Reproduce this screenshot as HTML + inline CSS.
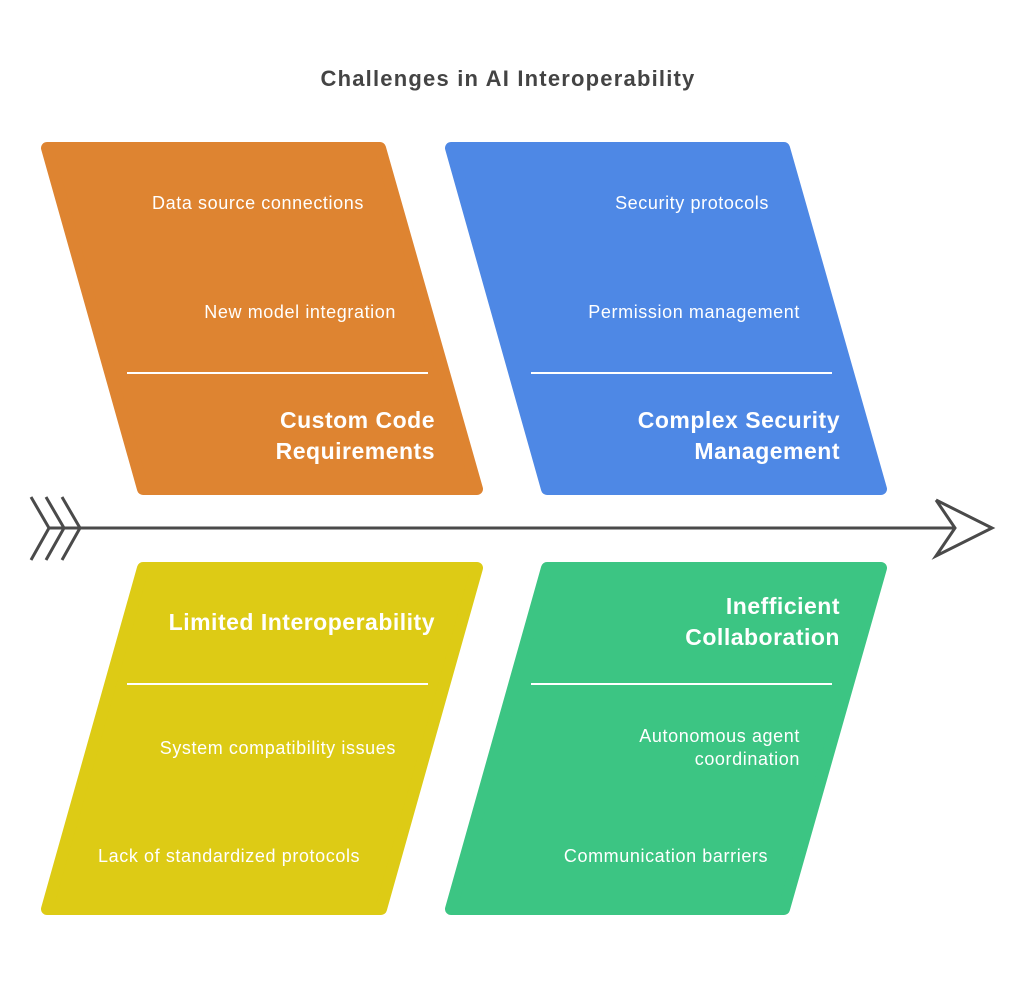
<!DOCTYPE html>
<html><head><style>
body{margin:0;background:#fff;}
svg text{font-family:"Liberation Sans",sans-serif;fill:#fff;}
</style></head><body>
<svg width="1024" height="980" viewBox="0 0 1024 980" xmlns="http://www.w3.org/2000/svg">
<rect width="1024" height="980" fill="#fff"/>
<text x="508" y="86" text-anchor="middle" style="fill:#444;font-size:22px;font-weight:bold;letter-spacing:1.2px">Challenges in AI Interoperability</text>
<g stroke-linejoin="round">
<path d="M47,148 L380,148 L477,489 L143,489 Z" fill="#DE8431" stroke="#DE8431" stroke-width="12"/>
<path d="M451,148 L784,148 L881,489 L547,489 Z" fill="#4E88E5" stroke="#4E88E5" stroke-width="12"/>
<path d="M143,568 L477,568 L381,909 L47,909 Z" fill="#DDCB15" stroke="#DDCB15" stroke-width="12"/>
<path d="M547,568 L881,568 L784,909 L451,909 Z" fill="#3CC583" stroke="#3CC583" stroke-width="12"/>
</g>
<g stroke="#fff" stroke-width="2">
<line x1="127" y1="373" x2="428" y2="373"/>
<line x1="531" y1="373" x2="832" y2="373"/>
<line x1="127" y1="684" x2="428" y2="684"/>
<line x1="531" y1="684" x2="832" y2="684"/>
</g>
<g style="font-size:18px;letter-spacing:0.6px">
<text x="258" y="209" text-anchor="middle">Data source connections</text>
<text x="396" y="318" text-anchor="end">New model integration</text>
<text x="692" y="209" text-anchor="middle">Security protocols</text>
<text x="800" y="318" text-anchor="end">Permission management</text>
<text x="396" y="754" text-anchor="end">System compatibility issues</text>
<text x="98" y="862">Lack of standardized protocols</text>
<text x="800" y="742" text-anchor="end">Autonomous agent</text>
<text x="800" y="765" text-anchor="end">coordination</text>
<text x="666" y="862" text-anchor="middle">Communication barriers</text>
</g>
<g style="font-size:23px;font-weight:bold;letter-spacing:0.5px">
<text x="435" y="428" text-anchor="end">Custom Code</text>
<text x="435" y="459" text-anchor="end">Requirements</text>
<text x="840" y="428" text-anchor="end">Complex Security</text>
<text x="840" y="459" text-anchor="end">Management</text>
<text x="435" y="630" text-anchor="end">Limited Interoperability</text>
<text x="840" y="614" text-anchor="end">Inefficient</text>
<text x="840" y="645" text-anchor="end">Collaboration</text>
</g>
<g stroke="#4a4a4a" stroke-width="3" fill="none" stroke-linejoin="miter">
<line x1="50" y1="528" x2="992" y2="528"/>
<polyline points="31,497 49,528 31,560"/>
<polyline points="46,497 64,528 46,560"/>
<polyline points="62,497 80,528 62,560"/>
<polyline points="936,500 992,528 936,556 955,528 936,500" fill="#fff"/>
</g>
</svg>
</body></html>
